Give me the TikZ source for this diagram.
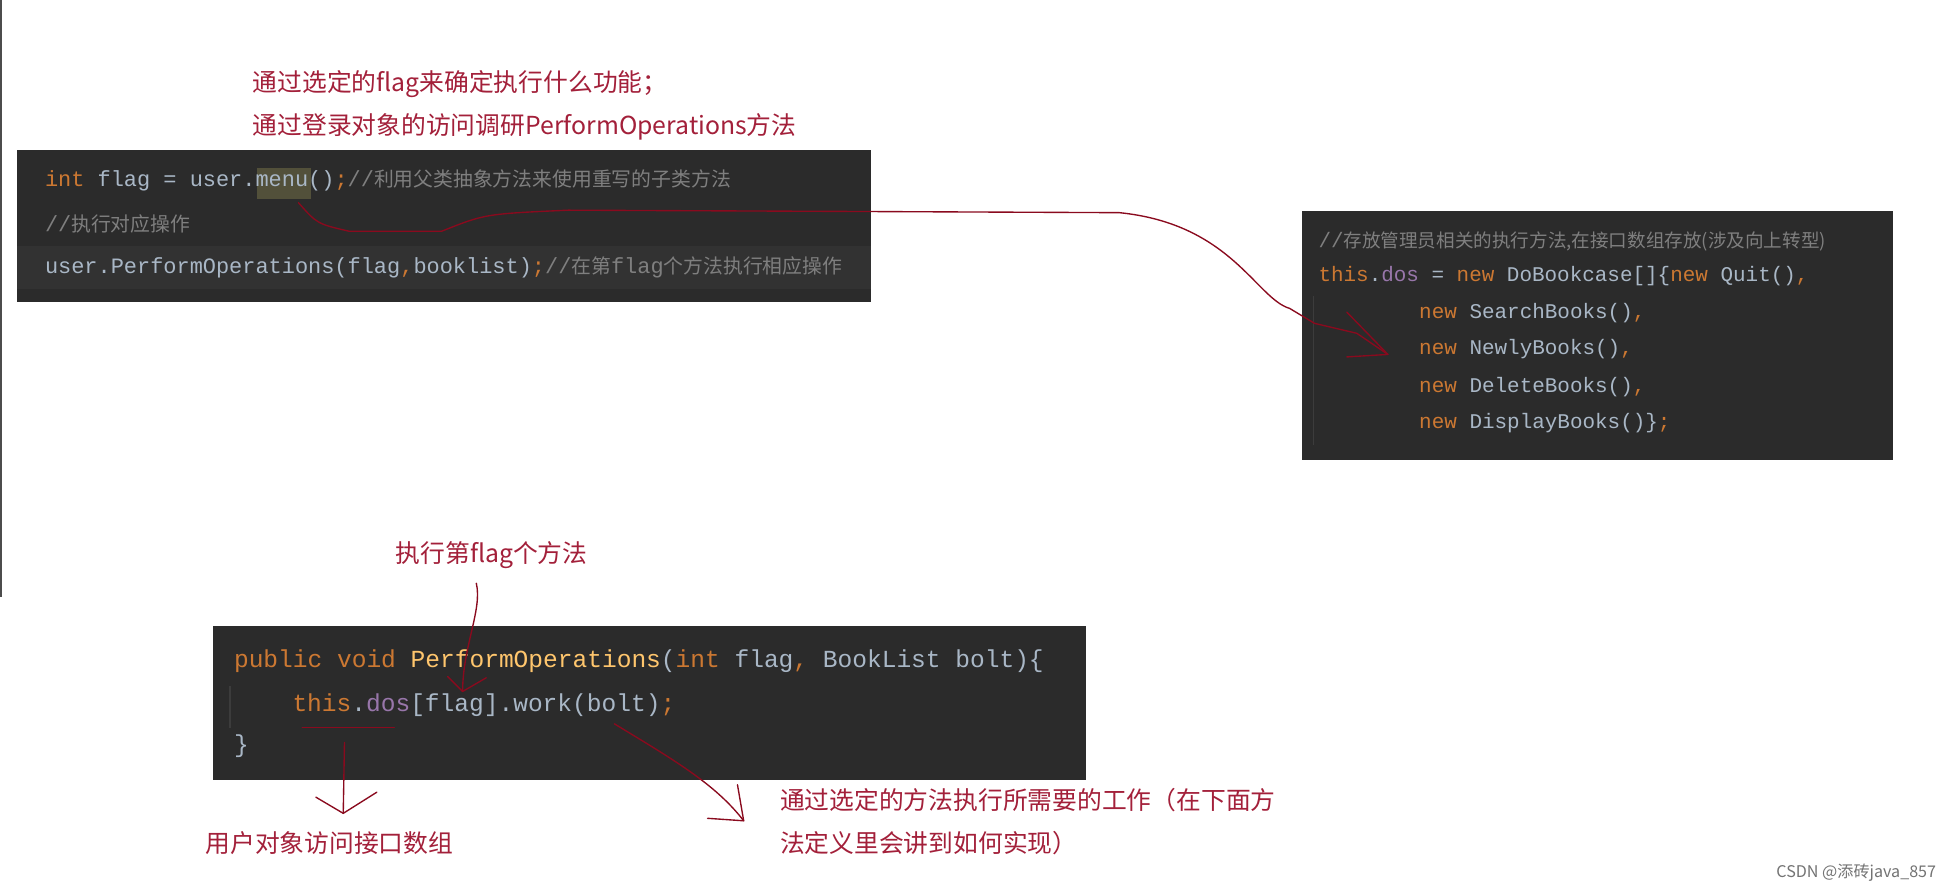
\documentclass[tikz,border=0pt]{standalone}
\usepackage{fontspec}
\newfontfamily\cjk{Noto Sans CJK SC}
\newfontfamily\cmono{Liberation Mono}
\definecolor{rd}{HTML}{A3203A}
\definecolor{ln}{HTML}{8A0A1E}
\definecolor{bg}{HTML}{2B2B2B}
\definecolor{rowc}{HTML}{323232}
\definecolor{hlc}{HTML}{52503A}
\definecolor{gdc}{HTML}{3C3C3C}
\definecolor{kwc}{HTML}{CC7832}
\definecolor{idc}{HTML}{A9B7C6}
\definecolor{cmc}{HTML}{7F7F7F}
\definecolor{fdc}{HTML}{9876AA}
\definecolor{mtc}{HTML}{FFC66D}
\newcommand\ckw[1]{\textcolor{kwc}{#1}}
\newcommand\cfd[1]{\textcolor{fdc}{#1}}
\newcommand\cmt[1]{\textcolor{mtc}{#1}}
\newcommand\ccm[1]{\textcolor{cmc}{#1}}
\tikzset{
 lbl/.style={anchor=west,inner sep=0,text=rd,font=\cjk\fontsize{20}{24}\selectfont},
 codeA/.style={anchor=west,inner sep=0,text=idc,font=\cmono\fontsize{17.7}{20}\selectfont},
 codeB/.style={anchor=west,inner sep=0,text=idc,font=\cmono\fontsize{16.9}{20}\selectfont},
 codeC/.style={anchor=west,inner sep=0,text=idc,font=\cmono\fontsize{19.8}{22}\selectfont},
 pen/.style={draw=ln,line width=1.1pt,line cap=round,line join=round},
}
\begin{document}
\begin{tikzpicture}[x=1bp,y=-1bp]
\useasboundingbox (0,0) rectangle (1568,719);
\fill[white] (0,0) rectangle (1568,719);
\draw[line width=1.5bp,draw=black!70] (1,0) -- (1,480);
% boxes
\fill[bg] (14,121) rectangle (700,243);
\fill[rowc] (14,198) rectangle (700,232);
\fill[hlc] (207,135) rectangle (250,160);
\fill[bg] (1047,170) rectangle (1522,370);
\draw[gdc,line width=1bp] (1056,238) -- (1056,358);
\fill[bg] (171,503) rectangle (873,627);
\draw[gdc,line width=1bp] (185,552) -- (185,585);
% labels
\node[lbl] (t1) at (203,68) {通过选定的flag来确定执行什么功能；};
\node[lbl] (t2) at (203,102) {通过登录对象的访问调研PerformOperations方法};
\node[lbl] (t3) at (318,446) {执行第flag个方法};
\node[lbl] (t4) at (165,678) {用户对象访问接口数组};
\node[lbl] (t5) at (627,643) {通过选定的方法执行所需要的工作（在下面方};
\node[lbl] (t6) at (627,678) {法定义里会讲到如何实现）};
\node[anchor=east,inner sep=0,text=black!55,font=\cjk\fontsize{13}{15}\selectfont] (wm) at (1557,702) {CSDN @添砖java\_857};
% code 1
\node[codeA] (a1) at (36,145) {\ckw{int} flag = user.menu()\ckw{;}\ccm{//{\cjk\fontsize{16}{18}\selectfont 利用父类抽象方法来使用重写的子类方法}}};
\node[codeA] (a2) at (36,180) {\ccm{//{\cjk\fontsize{16}{18}\selectfont 执行对应操作}}};
\node[codeA] (a3) at (36,215) {user.PerformOperations(flag\ckw{,}booklist)\ckw{;}\ccm{//{\cjk\fontsize{16}{18}\selectfont 在第}flag{\cjk\fontsize{16}{18}\selectfont 个方法执行相应操作}}};
% code 2
\node[codeB] (b1) at (1060,194) {\ccm{//{\cjk\fontsize{15}{18}\selectfont 存放管理员相关的执行方法,在接口数组存放(涉及向上转型)}}};
\node[codeB] (b2) at (1060,222) {\ckw{this}.\cfd{dos} = \ckw{new} DoBookcase[]\{\ckw{new} Quit()\ckw{,}};
\node[codeB] (b3) at (1141,252) {\ckw{new} SearchBooks()\ckw{,}};
\node[codeB] (b4) at (1141,281) {\ckw{new} NewlyBooks()\ckw{,}};
\node[codeB] (b5) at (1141,311) {\ckw{new} DeleteBooks()\ckw{,}};
\node[codeB] (b6) at (1141,340) {\ckw{new} DisplayBooks()\}\ckw{;}};
% code 3
\node[codeC] (c1) at (188,532) {\ckw{public void} \cmt{PerformOperations}(\ckw{int} flag\ckw{,} BookList bolt)\{};
\node[codeC] (c2) at (235,567) {\ckw{this}.\cfd{dos}[flag].work(bolt)\ckw{;}};
\node[codeC] (c3) at (188,600) {\}};
% connector 1
\coordinate (p1) at (240,163);
\coordinate (q1) at (1116,285);
\draw[pen] (p1) .. controls (255,180) .. (281,186) -- (355,186) .. controls (390,172) .. (457,169) -- (900,171) .. controls (990,180) and (1010,240) .. (1037,248) -- (1057,260) -- (1091,268) -- (q1);
\draw[pen] (1083,251) -- (q1) -- (1083,287);
% connector 2
\coordinate (p2) at (383,469);
\coordinate (q2) at (372,556);
\draw[pen] (p2) .. controls (388,490) and (372,520) .. (q2);
\draw[pen] (360,544) -- (q2) -- (391,545);
% underline + connector 3
\coordinate (u1) at (243,585);
\coordinate (u2) at (317,585);
\draw[pen] (u1) -- (u2);
\coordinate (p3) at (277,597);
\coordinate (q3) at (276,654);
\draw[pen] (p3) -- (q3);
\draw[pen] (254,641) -- (q3) -- (303,637);
% connector 4
\coordinate (p4) at (494,582);
\coordinate (q4) at (598,660);
\draw[pen] (p4) .. controls (540,610) and (575,630) .. (q4);
\draw[pen] (593,631) -- (q4) -- (569,658);
\end{tikzpicture}
\end{document}
